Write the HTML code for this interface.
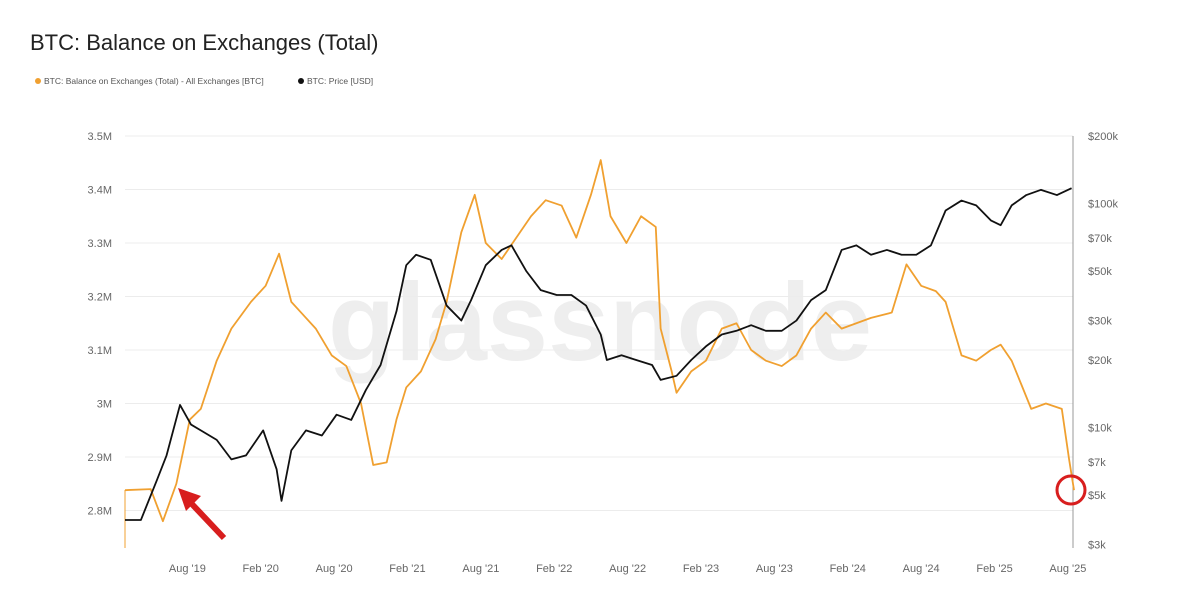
<!DOCTYPE html>
<html><head><meta charset="utf-8"><style>
body{margin:0;background:#fff;font-family:"Liberation Sans",sans-serif;}
svg{display:block}
text{font-family:"Liberation Sans",sans-serif;}
</style></head><body>
<svg id="chart" width="1200" height="597">
<text x="30" y="50" font-size="22" fill="#222">BTC: Balance on Exchanges (Total)</text>
<g>
<circle cx="38" cy="81" r="3" fill="#f0a030"/>
<text x="44" y="84" font-size="8.5" fill="#555">BTC: Balance on Exchanges (Total) - All Exchanges [BTC]</text>
<circle cx="301" cy="81" r="3" fill="#111"/>
<text x="307" y="84" font-size="8.5" fill="#555">BTC: Price [USD]</text>
</g>
<text x="600" y="360" font-size="110" fill="#eeeeee" text-anchor="middle" font-weight="bold">glassnode</text>
<g id="grid"></g><g id="axes"></g><g id="series"></g>
<g>
<line x1="224" y1="538" x2="190" y2="502" stroke="#d81e1e" stroke-width="6"/>
<polygon points="178,488 201,496 186,511" fill="#d81e1e"/>
<circle cx="1071" cy="490" r="14" fill="none" stroke="#d81e1e" stroke-width="3"/>
</g>
</svg>
<script>
const balMonths=[0,2,3,4.1,5.2,6.1,7.4,8.6,10.2,11.4,12.5,13.5,14.3,15.5,16.8,18,19.2,20.2,21.3,22.1,22.9,24.1,25.3,26.2,27.4,28.5,29.4,30.7,31.9,33.1,34.3,35.6,36.8,38,38.8,39.6,40.9,42.1,43.3,43.7,44.6,45,46.2,47.4,48.7,49.9,51.1,52.3,53.6,54.8,56,57.2,58.5,59.7,60.9,62.6,63.8,65,66.2,67,68.3,69.5,70.7,71.5,72.4,73.2,74,75.2,76.5,77.1,77.5];
const balValues=[2.838,2.84,2.78,2.85,2.97,2.99,3.08,3.14,3.19,3.22,3.28,3.19,3.17,3.14,3.09,3.07,3.00,2.885,2.89,2.97,3.03,3.06,3.12,3.19,3.32,3.39,3.30,3.27,3.31,3.35,3.38,3.37,3.31,3.39,3.455,3.35,3.30,3.35,3.33,3.14,3.06,3.02,3.06,3.08,3.14,3.15,3.10,3.08,3.07,3.09,3.14,3.17,3.14,3.15,3.16,3.17,3.26,3.22,3.21,3.19,3.09,3.08,3.10,3.11,3.08,3.035,2.99,3.00,2.99,2.895,2.838];
const priceMonths=[0,1.2,2.5,3.3,4.4,5.3,6.1,7.4,8.6,9.8,11.2,12.3,12.7,13.5,14.7,16,17.2,18.4,19.6,20.8,22.1,22.9,23.7,24.9,26.2,27.4,28.2,29.4,30.7,31.5,32.7,33.9,35.2,36.4,37.6,38.8,39.3,40.5,41.7,43,43.7,45,46.2,47.4,48.7,49.9,51.1,52.3,53.6,54.8,56,57.2,58.5,59.7,60.9,62.2,63.4,64.6,65.8,67,68.3,69.5,70.7,71.5,72.4,73.6,74.8,76.1,77.3];
const priceValues=[3860,3860,5800,7500,12600,10300,9700,8800,7200,7500,9700,6500,4700,7900,9700,9200,11400,10800,14700,19000,33000,53000,59000,56000,35000,30000,37000,53000,62000,65000,50000,41000,39000,39000,35000,26000,20000,21000,20000,19000,16300,17000,20000,23000,26000,27000,28600,27000,27000,30000,37000,41000,62000,65000,59000,62000,59000,59000,65000,93000,103000,98000,84000,80000,98000,109000,115000,109000,117000];
const leftTicks=[3.5,3.4,3.3,3.2,3.1,3.0,2.9,2.8];
const leftTickLabels=["3.5M","3.4M","3.3M","3.2M","3.1M","3M","2.9M","2.8M"];
const rightTicks=[200000,100000,70000,50000,30000,20000,10000,7000,5000,3000];
const rightTickLabels=["$200k","$100k","$70k","$50k","$30k","$20k","$10k","$7k","$5k","$3k"];
const xTickMonths=[5,11,17,23,29,35,41,47,53,59,65,71,77];
const xTickLabels=["Aug '19","Feb '20","Aug '20","Feb '21","Aug '21","Feb '22","Aug '22","Feb '23","Aug '23","Feb '24","Aug '24","Feb '25","Aug '25"];

const NS="http://www.w3.org/2000/svg";
const xS=m=>125+m*12.23+ (m>0?1.2:0);
const yL=v=>136+(3.5-v)*535;
const yR=p=>136+(Math.log10(200000)-Math.log10(p))*224;
function mk(tag,attrs,parent){const e=document.createElementNS(NS,tag);for(const k in attrs)e.setAttribute(k,attrs[k]);parent.appendChild(e);return e;}
const grid=document.getElementById('grid'),axes=document.getElementById('axes'),series=document.getElementById('series');
leftTicks.forEach((v,i)=>{
 const l=mk('line',{x1:125,x2:1073,y1:yL(v),y2:yL(v),stroke:'#ececec','stroke-width':1},grid);
 
 
 const t=mk('text',{x:112,y:yL(v)+4,'font-size':11,fill:'#666','text-anchor':'end'},axes);
 t.textContent=leftTickLabels[i];
 
 
});
rightTicks.forEach((p,i)=>{
 const t=mk('text',{x:1088,y:yR(p)+4,'font-size':11,fill:'#666'},axes);
 t.textContent=rightTickLabels[i];
 
 
});
xTickMonths.forEach((m,i)=>{
 const t=mk('text',{x:xS(m),y:572,'font-size':11,fill:'#666','text-anchor':'middle'},axes);
 t.textContent=xTickLabels[i];
 
 
});
const ra=mk('line',{x1:1073,x2:1073,y1:136,y2:548,stroke:'#999','stroke-width':1},axes);


const la=mk('line',{x1:125,x2:125,y1:490,y2:548,stroke:'#f0a030','stroke-width':1},axes);


const bp=mk('polyline',{points:balMonths.map((m,i)=>xS(m)+','+yL(balValues[i])).join(' '),fill:'none',stroke:'#f0a030','stroke-width':1.8,'stroke-linejoin':'round'},series);


const pp=mk('polyline',{points:priceMonths.map((m,i)=>xS(m)+','+yR(priceValues[i])).join(' '),fill:'none',stroke:'#111','stroke-width':1.8,'stroke-linejoin':'round'},series);


</script>
</body></html>
